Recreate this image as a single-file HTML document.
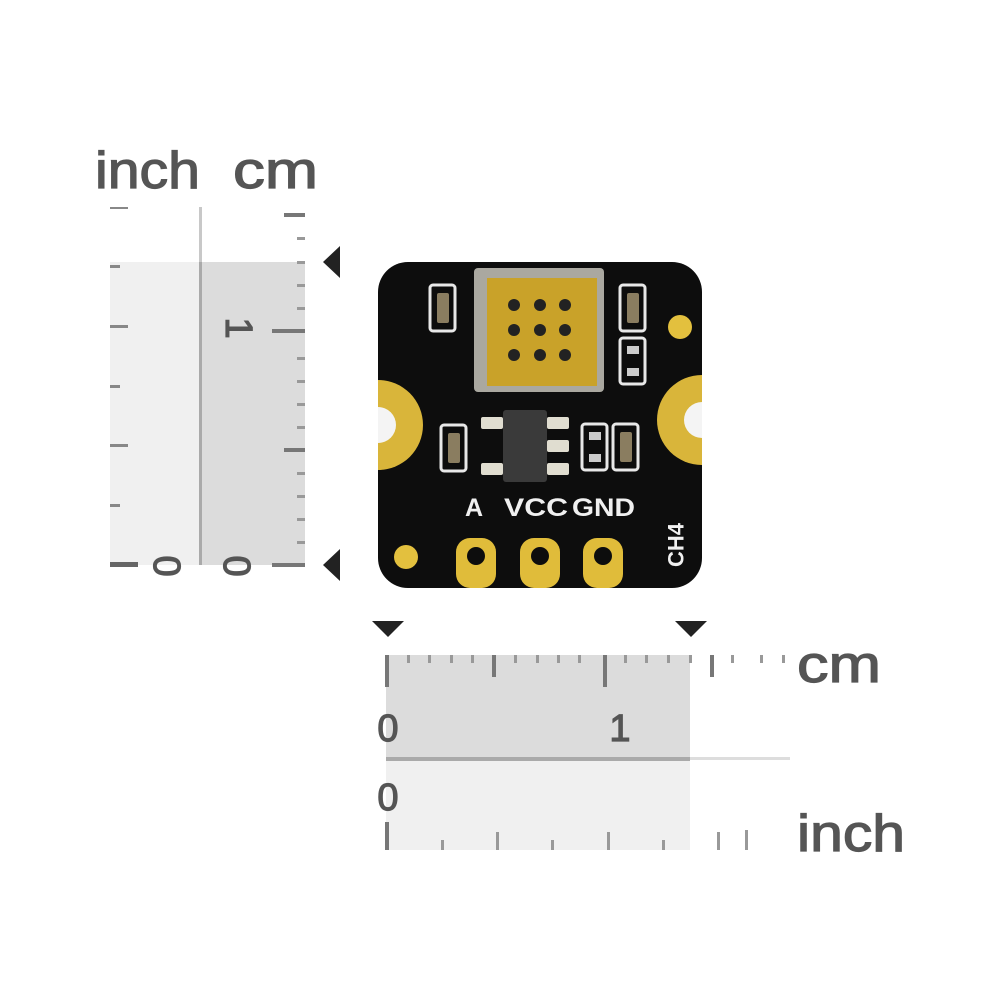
<!DOCTYPE html>
<html><head><meta charset="utf-8"><style>
html,body{margin:0;padding:0;background:#fff;}
svg{display:block;}
text{font-family:"Liberation Sans",sans-serif;}
.lbl{fill:#555;stroke:#555;stroke-width:1.2;}
</style></head><body>
<svg width="1000" height="1000" viewBox="0 0 1000 1000" xmlns="http://www.w3.org/2000/svg">
<!-- left ruler -->
<rect x="110" y="262" width="90" height="303" fill="#f0f0f0"/>
<rect x="200" y="262" width="105" height="303" fill="#dcdcdc"/>
<rect x="199" y="207" width="3" height="358" fill="#c8c8c8"/>
<rect x="199" y="262" width="3" height="303" fill="#aaa"/>
<g fill="#888">
<rect x="110" y="207" width="18" height="2"/>
<rect x="110" y="265" width="10" height="3"/>
<rect x="110" y="325" width="18" height="3"/>
<rect x="110" y="385" width="10" height="3"/>
<rect x="110" y="444" width="18" height="3"/>
<rect x="110" y="504" width="10" height="3"/>
</g>
<rect x="110" y="562" width="28" height="5" fill="#666"/>
<g fill="#999">
<rect x="297" y="237" width="8" height="3"/><rect x="297" y="261" width="8" height="3"/>
<rect x="297" y="284" width="8" height="3"/><rect x="297" y="307" width="8" height="3"/>
<rect x="297" y="357" width="8" height="3"/><rect x="297" y="380" width="8" height="3"/>
<rect x="297" y="403" width="8" height="3"/><rect x="297" y="426" width="8" height="3"/>
<rect x="297" y="472" width="8" height="3"/><rect x="297" y="495" width="8" height="3"/>
<rect x="297" y="518" width="8" height="3"/><rect x="297" y="541" width="8" height="3"/>
</g>
<g fill="#777">
<rect x="284" y="213" width="21" height="4"/>
<rect x="272" y="329" width="33" height="4"/>
<rect x="284" y="448" width="21" height="4"/>
<rect x="272" y="563" width="33" height="4"/>
</g>
<text class="lbl" x="0" y="0" font-size="38" transform="translate(166,566) rotate(90)" text-anchor="middle" dominant-baseline="central">0</text>
<text class="lbl" x="0" y="0" font-size="38" transform="translate(236,566) rotate(90)" text-anchor="middle" dominant-baseline="central">0</text>
<text class="lbl" x="0" y="0" font-size="38" transform="translate(238,328) rotate(90)" text-anchor="middle" dominant-baseline="central">1</text>
<text class="lbl" x="95" y="188" font-size="52" textLength="105" lengthAdjust="spacingAndGlyphs">inch</text>
<text class="lbl" x="233" y="188" font-size="52" textLength="85" lengthAdjust="spacingAndGlyphs">cm</text>
<polygon points="340,246 340,278 323,262" fill="#222"/>
<polygon points="340,549 340,581 323,565" fill="#222"/>

<!-- bottom ruler -->
<rect x="386" y="655" width="304" height="105" fill="#dcdcdc"/>
<rect x="386" y="760" width="304" height="90" fill="#f0f0f0"/>
<rect x="386" y="757" width="304" height="4" fill="#aaa"/>
<rect x="690" y="757" width="100" height="3" fill="#ddd"/>
<g fill="#999">
<rect x="407" y="655" width="3" height="8"/><rect x="428" y="655" width="3" height="8"/>
<rect x="450" y="655" width="3" height="8"/><rect x="471" y="655" width="3" height="8"/>
<rect x="514" y="655" width="3" height="8"/><rect x="536" y="655" width="3" height="8"/>
<rect x="557" y="655" width="3" height="8"/><rect x="578" y="655" width="3" height="8"/>
<rect x="624" y="655" width="3" height="8"/><rect x="645" y="655" width="3" height="8"/>
<rect x="667" y="655" width="3" height="8"/><rect x="689" y="655" width="3" height="8"/>
<rect x="731" y="655" width="3" height="8"/><rect x="760" y="655" width="3" height="8"/>
<rect x="782" y="655" width="3" height="8"/>
</g>
<g fill="#777">
<rect x="385" y="655" width="4" height="32"/>
<rect x="492" y="655" width="4" height="22"/>
<rect x="603" y="655" width="4" height="32"/>
<rect x="710" y="655" width="4" height="22"/>
</g>
<g fill="#999">
<rect x="441" y="840" width="3" height="10"/><rect x="496" y="832" width="3" height="18"/>
<rect x="551" y="840" width="3" height="10"/><rect x="607" y="832" width="3" height="18"/>
<rect x="662" y="840" width="3" height="10"/><rect x="717" y="832" width="3" height="18"/>
<rect x="745" y="830" width="3" height="20"/>
</g>
<rect x="385" y="822" width="4" height="28" fill="#777"/>
<text class="lbl" x="388" y="741" font-size="38" text-anchor="middle">0</text>
<text class="lbl" x="620" y="741" font-size="38" text-anchor="middle">1</text>
<text class="lbl" x="388" y="810" font-size="38" text-anchor="middle">0</text>
<text class="lbl" x="797" y="682" font-size="52" textLength="84" lengthAdjust="spacingAndGlyphs">cm</text>
<text class="lbl" x="797" y="851" font-size="52" textLength="108" lengthAdjust="spacingAndGlyphs">inch</text>
<polygon points="372,621 404,621 388,637" fill="#222"/>
<polygon points="675,621 707,621 691,637" fill="#222"/>

<!-- board -->
<rect x="378" y="262" width="324" height="326" rx="30" fill="#0d0d0d"/>
<path d="M378,380 A45,45 0 0 1 378,470 Z" fill="#d9b53a"/>
<path d="M378,407 A18,18 0 0 1 378,443 Z" fill="#f4f4f4"/>
<path d="M702,375 A45,45 0 0 0 702,465 Z" fill="#d9b53a"/>
<path d="M702,402 A18,18 0 0 0 702,438 Z" fill="#f4f4f4"/>
<circle cx="680" cy="327" r="12" fill="#e3c03e"/>
<circle cx="406" cy="557" r="12" fill="#e3c03e"/>
<!-- sensor -->
<rect x="474" y="268" width="130" height="124" rx="4" fill="#aaa8a0"/>
<rect x="487" y="278" width="110" height="108" fill="#c9a229"/>
<g fill="#222">
<circle cx="514" cy="305" r="6"/><circle cx="540" cy="305" r="6"/><circle cx="565" cy="305" r="6"/>
<circle cx="514" cy="330" r="6"/><circle cx="540" cy="330" r="6"/><circle cx="565" cy="330" r="6"/>
<circle cx="514" cy="355" r="6"/><circle cx="540" cy="355" r="6"/><circle cx="565" cy="355" r="6"/>
</g>
<!-- small components -->
<g fill="none" stroke="#e8e8e8" stroke-width="3">
<rect x="430" y="285" width="25" height="46" rx="3"/>
<rect x="620" y="285" width="25" height="46" rx="3"/>
<rect x="620" y="338" width="25" height="46" rx="3"/>
<rect x="441" y="425" width="25" height="46" rx="3"/>
<rect x="582" y="424" width="25" height="46" rx="3"/>
<rect x="613" y="424" width="25" height="46" rx="3"/>
</g>
<g fill="#8a7d60">
<rect x="437" y="293" width="12" height="30" rx="2"/>
<rect x="627" y="293" width="12" height="30" rx="2"/>
<rect x="448" y="433" width="12" height="30" rx="2"/>
<rect x="620" y="432" width="12" height="30" rx="2"/>
</g>
<g fill="#ccc">
<rect x="627" y="346" width="12" height="8"/><rect x="627" y="368" width="12" height="8"/>
<rect x="589" y="432" width="12" height="8"/><rect x="589" y="454" width="12" height="8"/>
</g>
<!-- IC -->
<rect x="503" y="410" width="44" height="72" rx="3" fill="#3a3a3a"/>
<g fill="#e0ddd0">
<rect x="481" y="417" width="22" height="12" rx="2"/>
<rect x="481" y="463" width="22" height="12" rx="2"/>
<rect x="547" y="417" width="22" height="12" rx="2"/>
<rect x="547" y="440" width="22" height="12" rx="2"/>
<rect x="547" y="463" width="22" height="12" rx="2"/>
</g>
<text x="474" y="516" font-size="25" font-weight="bold" fill="#f0f0f0" text-anchor="middle">A</text>
<text x="504" y="516" font-size="25" font-weight="bold" fill="#f0f0f0" textLength="64" lengthAdjust="spacingAndGlyphs">VCC</text>
<text x="572" y="516" font-size="25" font-weight="bold" fill="#f0f0f0" textLength="63" lengthAdjust="spacingAndGlyphs">GND</text>
<text x="0" y="0" font-size="22" font-weight="bold" fill="#f0f0f0" transform="translate(676,545) rotate(-90)" text-anchor="middle" dominant-baseline="central">CH4</text>
<!-- pads -->
<g fill="#e0bc3a">
<rect x="456" y="538" width="40" height="50" rx="14"/>
<rect x="520" y="538" width="40" height="50" rx="14"/>
<rect x="583" y="538" width="40" height="50" rx="14"/>
</g>
<g fill="#0d0d0d">
<circle cx="476" cy="556" r="9"/><circle cx="540" cy="556" r="9"/><circle cx="603" cy="556" r="9"/>
</g>
</svg>
</body></html>
